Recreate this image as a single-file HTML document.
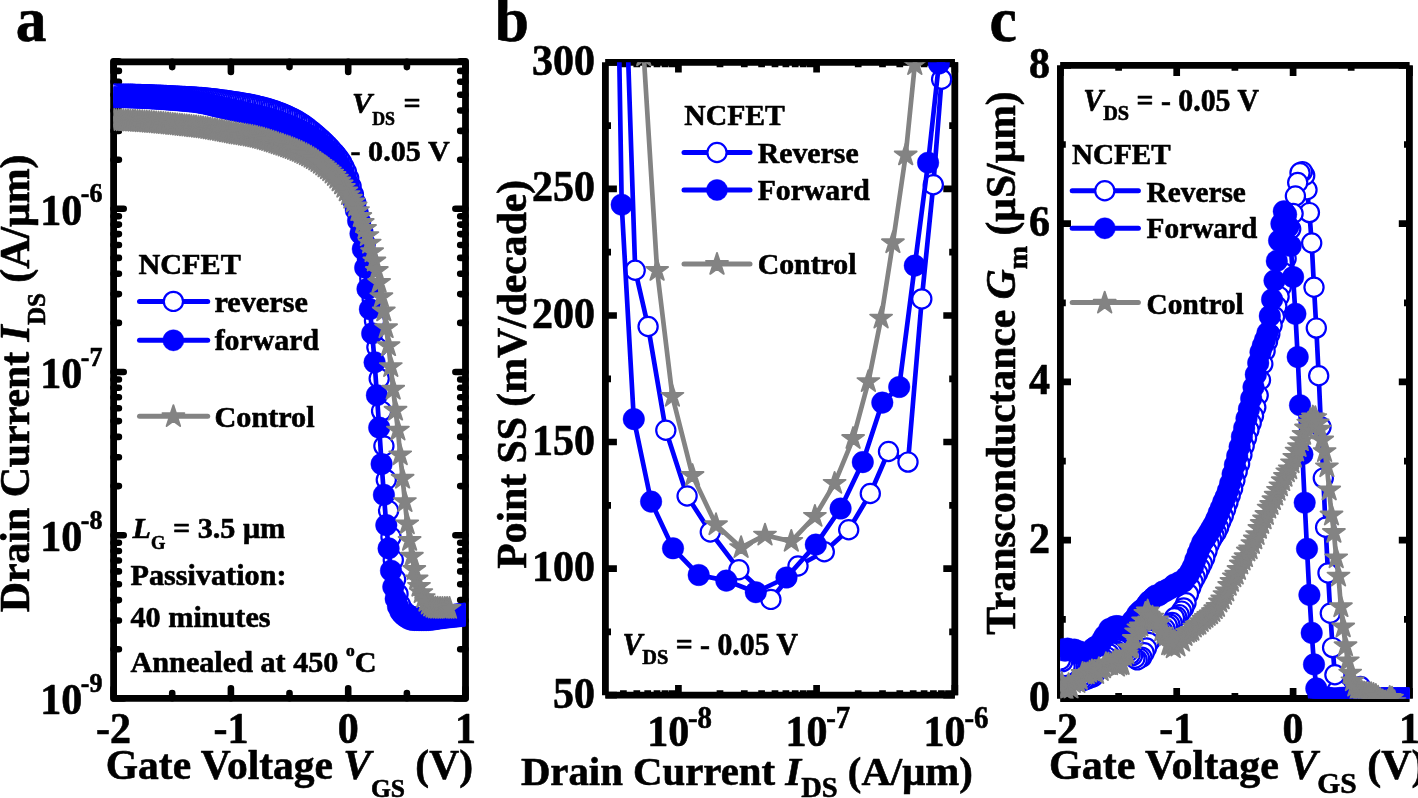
<!DOCTYPE html>
<html lang="en"><head><meta charset="utf-8"><title>Figure</title>
<style>html,body{margin:0;padding:0;background:#fff}body{width:1418px;height:798px;overflow:hidden}svg{display:block}text{font-family:'Liberation Serif','Times New Roman',serif;font-weight:bold;fill:#000;stroke:#000;stroke-width:0.6px;stroke-linejoin:round}</style>
</head><body>
<svg width="1418" height="798" viewBox="0 0 1418 798">
<defs>
<path id="sA" d="M0,-11.6L2.6,-3.6L11,-3.6L4.2,1.4L6.8,9.4L0,4.4L-6.8,9.4L-4.2,1.4L-11,-3.6L-2.6,-3.6Z" stroke="#838383" stroke-width="1.8" stroke-linejoin="round"/>
</defs>
<rect x="113.6" y="61.8" width="351.9" height="636.5" fill="none" stroke="#000" stroke-width="6.8" stroke-linejoin="round"/>
<path d="M113.6,698.3L113.6,688.2M113.6,61.8L113.6,71.9M172.2,698.3L172.2,693M172.2,61.8L172.2,67.1M230.9,698.3L230.9,688.2M230.9,61.8L230.9,71.9M289.5,698.3L289.5,693M289.5,61.8L289.5,67.1M348.2,698.3L348.2,688.2M348.2,61.8L348.2,71.9M406.9,698.3L406.9,693M406.9,61.8L406.9,67.1M465.5,698.3L465.5,688.2M465.5,61.8L465.5,71.9M113.6,698.4L123.7,698.4M465.5,698.4L455.4,698.4M113.6,649.3L118.9,649.3M465.5,649.3L460.2,649.3M113.6,620.5L118.9,620.5M465.5,620.5L460.2,620.5M113.6,600.1L118.9,600.1M465.5,600.1L460.2,600.1M113.6,584.3L118.9,584.3M465.5,584.3L460.2,584.3M113.6,571.4L118.9,571.4M465.5,571.4L460.2,571.4M113.6,560.5L118.9,560.5M465.5,560.5L460.2,560.5M113.6,551L118.9,551M465.5,551L460.2,551M113.6,542.7L118.9,542.7M465.5,542.7L460.2,542.7M113.6,535.2L123.7,535.2M465.5,535.2L455.4,535.2M113.6,486.1L118.9,486.1M465.5,486.1L460.2,486.1M113.6,457.3L118.9,457.3M465.5,457.3L460.2,457.3M113.6,436.9L118.9,436.9M465.5,436.9L460.2,436.9M113.6,421.1L118.9,421.1M465.5,421.1L460.2,421.1M113.6,408.2L118.9,408.2M465.5,408.2L460.2,408.2M113.6,397.3L118.9,397.3M465.5,397.3L460.2,397.3M113.6,387.8L118.9,387.8M465.5,387.8L460.2,387.8M113.6,379.5L118.9,379.5M465.5,379.5L460.2,379.5M113.6,372L123.7,372M465.5,372L455.4,372M113.6,322.9L118.9,322.9M465.5,322.9L460.2,322.9M113.6,294.1L118.9,294.1M465.5,294.1L460.2,294.1M113.6,273.7L118.9,273.7M465.5,273.7L460.2,273.7M113.6,257.9L118.9,257.9M465.5,257.9L460.2,257.9M113.6,245L118.9,245M465.5,245L460.2,245M113.6,234.1L118.9,234.1M465.5,234.1L460.2,234.1M113.6,224.6L118.9,224.6M465.5,224.6L460.2,224.6M113.6,216.3L118.9,216.3M465.5,216.3L460.2,216.3M113.6,208.8L123.7,208.8M465.5,208.8L455.4,208.8M113.6,159.7L118.9,159.7M465.5,159.7L460.2,159.7M113.6,130.9L118.9,130.9M465.5,130.9L460.2,130.9M113.6,110.5L118.9,110.5M465.5,110.5L460.2,110.5M113.6,94.7L118.9,94.7M465.5,94.7L460.2,94.7M113.6,81.8L118.9,81.8M465.5,81.8L460.2,81.8M113.6,70.9L118.9,70.9M465.5,70.9L460.2,70.9M113.6,61.4L118.9,61.4M465.5,61.4L460.2,61.4" stroke="#000" stroke-width="6.6" stroke-linecap="round" fill="none"/>
<clipPath id="ca"><rect x="113.6" y="61.8" width="351.9" height="636.5"/></clipPath>
<g clip-path="url(#ca)">
<polyline fill="none" stroke="#0000ff" stroke-width="4.7" stroke-linejoin="round" points="113.6,94.1 114.1,94.1 116.5,94.1 118.8,94.1 121.2,94.1 123.5,94.2 125.9,94.2 128.2,94.2 130.6,94.3 132.9,94.3 135.2,94.4 137.6,94.4 139.9,94.5 142.3,94.6 144.6,94.7 147,94.7 149.3,94.8 151.7,94.9 154,95 156.4,95.1 158.7,95.2 161,95.3 163.4,95.4 165.7,95.5 168.1,95.6 170.4,95.7 172.8,95.9 175.1,96 177.5,96.1 179.8,96.2 182.2,96.4 184.5,96.5 186.9,96.6 189.2,96.7 191.5,96.9 193.9,97 196.2,97.2 198.6,97.4 200.9,97.5 203.3,97.7 205.6,98 208,98.2 210.3,98.5 212.7,98.7 215,99 217.4,99.3 219.7,99.6 222,99.9 224.4,100.2 226.7,100.5 229.1,100.9 231.4,101.2 233.8,101.6 236.1,101.9 238.5,102.3 240.8,102.7 243.2,103.1 245.5,103.5 247.9,103.9 250.2,104.3 252.5,104.8 254.9,105.3 257.2,105.9 259.6,106.4 261.9,107 264.3,107.7 266.6,108.3 269,109 271.3,109.7 273.7,110.5 276,111.3 278.3,112.1 280.7,113 283,113.9 285.4,114.9 287.7,116 290.1,117.1 292.4,118.2 294.8,119.4 297.1,120.7 299.5,122.1 301.8,123.6 304.2,125.2 306.5,126.9 308.8,128.7 311.2,130.6 313.5,132.5 315.9,134.5 318.2,136.5 320.6,138.6 322.9,140.7 325.3,143 327.6,145.4 330,147.9 332.3,150.5 334.7,153.1 337,155.8 339.3,158.9 341.7,162.4 344,166.7 346.4,171.7 348.7,178.1 351.1,186.2 353.4,194.4 355.8,202.9 358.1,212.7 360.5,221.9 362.8,231.8 365.2,243.6 367.5,259.1 369.8,278.5 372.2,298.7 374.5,320.7 376.9,347.3 379.2,378.5 381.6,411.1 383.9,446 386.3,479.8 388.6,510.6 391,537.1 393.3,560.1 395.6,579.3 398,593.9 400.3,604.5 402.7,609.4 405,612.2 407.4,614.1 409.7,615.6 412.1,616.8 414.4,617.3 416.8,617.5 419.1,617.7 421.5,617.7 423.8,617.8 426.1,617.8 428.5,617.7 430.8,617.5 433.2,617.2 435.5,616.8 437.9,616.5 440.2,616.1 442.6,615.8 444.9,615.5 447.3,615.2 449.6,615 452,614.7 454.3,614.5 456.6,614.2 459,614 461.3,613.7 463.7,613.5 466,613.2" />
<g fill="#fff" stroke="#0000ff" stroke-width="2.2">
<circle cx="466" cy="613.2" r="9.6"/><circle cx="463.7" cy="613.5" r="9.6"/><circle cx="461.3" cy="613.7" r="9.6"/><circle cx="459" cy="614" r="9.6"/><circle cx="456.6" cy="614.2" r="9.6"/><circle cx="454.3" cy="614.5" r="9.6"/><circle cx="452" cy="614.7" r="9.6"/><circle cx="449.6" cy="615" r="9.6"/><circle cx="447.3" cy="615.2" r="9.6"/><circle cx="444.9" cy="615.5" r="9.6"/><circle cx="442.6" cy="615.8" r="9.6"/><circle cx="440.2" cy="616.1" r="9.6"/><circle cx="437.9" cy="616.5" r="9.6"/><circle cx="435.5" cy="616.8" r="9.6"/><circle cx="433.2" cy="617.2" r="9.6"/><circle cx="430.8" cy="617.5" r="9.6"/><circle cx="428.5" cy="617.7" r="9.6"/><circle cx="426.1" cy="617.8" r="9.6"/><circle cx="423.8" cy="617.8" r="9.6"/><circle cx="421.5" cy="617.7" r="9.6"/><circle cx="419.1" cy="617.7" r="9.6"/><circle cx="416.8" cy="617.5" r="9.6"/><circle cx="414.4" cy="617.3" r="9.6"/><circle cx="412.1" cy="616.8" r="9.6"/><circle cx="409.7" cy="615.6" r="9.6"/><circle cx="407.4" cy="614.1" r="9.6"/><circle cx="405" cy="612.2" r="9.6"/><circle cx="402.7" cy="609.4" r="9.6"/><circle cx="400.3" cy="604.5" r="9.6"/><circle cx="398" cy="593.9" r="9.6"/><circle cx="395.6" cy="579.3" r="9.6"/><circle cx="393.3" cy="560.1" r="9.6"/><circle cx="391" cy="537.1" r="9.6"/><circle cx="388.6" cy="510.6" r="9.6"/><circle cx="386.3" cy="479.8" r="9.6"/><circle cx="383.9" cy="446" r="9.6"/><circle cx="381.6" cy="411.1" r="9.6"/><circle cx="379.2" cy="378.5" r="9.6"/><circle cx="376.9" cy="347.3" r="9.6"/><circle cx="374.5" cy="320.7" r="9.6"/><circle cx="372.2" cy="298.7" r="9.6"/><circle cx="369.8" cy="278.5" r="9.6"/><circle cx="367.5" cy="259.1" r="9.6"/><circle cx="365.2" cy="243.6" r="9.6"/><circle cx="362.8" cy="231.8" r="9.6"/><circle cx="360.5" cy="221.9" r="9.6"/><circle cx="358.1" cy="212.7" r="9.6"/><circle cx="355.8" cy="202.9" r="9.6"/><circle cx="353.4" cy="194.4" r="9.6"/><circle cx="351.1" cy="186.2" r="9.6"/><circle cx="348.7" cy="178.1" r="9.6"/><circle cx="346.4" cy="171.7" r="9.6"/><circle cx="344" cy="166.7" r="9.6"/><circle cx="341.7" cy="162.4" r="9.6"/><circle cx="339.3" cy="158.9" r="9.6"/><circle cx="337" cy="155.8" r="9.6"/><circle cx="334.7" cy="153.1" r="9.6"/><circle cx="332.3" cy="150.5" r="9.6"/><circle cx="330" cy="147.9" r="9.6"/><circle cx="327.6" cy="145.4" r="9.6"/><circle cx="325.3" cy="143" r="9.6"/><circle cx="322.9" cy="140.7" r="9.6"/><circle cx="320.6" cy="138.6" r="9.6"/><circle cx="318.2" cy="136.5" r="9.6"/><circle cx="315.9" cy="134.5" r="9.6"/><circle cx="313.5" cy="132.5" r="9.6"/><circle cx="311.2" cy="130.6" r="9.6"/><circle cx="308.8" cy="128.7" r="9.6"/><circle cx="306.5" cy="126.9" r="9.6"/><circle cx="304.2" cy="125.2" r="9.6"/><circle cx="301.8" cy="123.6" r="9.6"/><circle cx="299.5" cy="122.1" r="9.6"/><circle cx="297.1" cy="120.7" r="9.6"/><circle cx="294.8" cy="119.4" r="9.6"/><circle cx="292.4" cy="118.2" r="9.6"/><circle cx="290.1" cy="117.1" r="9.6"/><circle cx="287.7" cy="116" r="9.6"/><circle cx="285.4" cy="114.9" r="9.6"/><circle cx="283" cy="113.9" r="9.6"/><circle cx="280.7" cy="113" r="9.6"/><circle cx="278.3" cy="112.1" r="9.6"/><circle cx="276" cy="111.3" r="9.6"/><circle cx="273.7" cy="110.5" r="9.6"/><circle cx="271.3" cy="109.7" r="9.6"/><circle cx="269" cy="109" r="9.6"/><circle cx="266.6" cy="108.3" r="9.6"/><circle cx="264.3" cy="107.7" r="9.6"/><circle cx="261.9" cy="107" r="9.6"/><circle cx="259.6" cy="106.4" r="9.6"/><circle cx="257.2" cy="105.9" r="9.6"/><circle cx="254.9" cy="105.3" r="9.6"/><circle cx="252.5" cy="104.8" r="9.6"/><circle cx="250.2" cy="104.3" r="9.6"/><circle cx="247.9" cy="103.9" r="9.6"/><circle cx="245.5" cy="103.5" r="9.6"/><circle cx="243.2" cy="103.1" r="9.6"/><circle cx="240.8" cy="102.7" r="9.6"/><circle cx="238.5" cy="102.3" r="9.6"/><circle cx="236.1" cy="101.9" r="9.6"/><circle cx="233.8" cy="101.6" r="9.6"/><circle cx="231.4" cy="101.2" r="9.6"/><circle cx="229.1" cy="100.9" r="9.6"/><circle cx="226.7" cy="100.5" r="9.6"/><circle cx="224.4" cy="100.2" r="9.6"/><circle cx="222" cy="99.9" r="9.6"/><circle cx="219.7" cy="99.6" r="9.6"/><circle cx="217.4" cy="99.3" r="9.6"/><circle cx="215" cy="99" r="9.6"/><circle cx="212.7" cy="98.7" r="9.6"/><circle cx="210.3" cy="98.5" r="9.6"/><circle cx="208" cy="98.2" r="9.6"/><circle cx="205.6" cy="98" r="9.6"/><circle cx="203.3" cy="97.7" r="9.6"/><circle cx="200.9" cy="97.5" r="9.6"/><circle cx="198.6" cy="97.4" r="9.6"/><circle cx="196.2" cy="97.2" r="9.6"/><circle cx="193.9" cy="97" r="9.6"/><circle cx="191.5" cy="96.9" r="9.6"/><circle cx="189.2" cy="96.7" r="9.6"/><circle cx="186.9" cy="96.6" r="9.6"/><circle cx="184.5" cy="96.5" r="9.6"/><circle cx="182.2" cy="96.4" r="9.6"/><circle cx="179.8" cy="96.2" r="9.6"/><circle cx="177.5" cy="96.1" r="9.6"/><circle cx="175.1" cy="96" r="9.6"/><circle cx="172.8" cy="95.9" r="9.6"/><circle cx="170.4" cy="95.7" r="9.6"/><circle cx="168.1" cy="95.6" r="9.6"/><circle cx="165.7" cy="95.5" r="9.6"/><circle cx="163.4" cy="95.4" r="9.6"/><circle cx="161" cy="95.3" r="9.6"/><circle cx="158.7" cy="95.2" r="9.6"/><circle cx="156.4" cy="95.1" r="9.6"/><circle cx="154" cy="95" r="9.6"/><circle cx="151.7" cy="94.9" r="9.6"/><circle cx="149.3" cy="94.8" r="9.6"/><circle cx="147" cy="94.7" r="9.6"/><circle cx="144.6" cy="94.7" r="9.6"/><circle cx="142.3" cy="94.6" r="9.6"/><circle cx="139.9" cy="94.5" r="9.6"/><circle cx="137.6" cy="94.4" r="9.6"/><circle cx="135.2" cy="94.4" r="9.6"/><circle cx="132.9" cy="94.3" r="9.6"/><circle cx="130.6" cy="94.3" r="9.6"/><circle cx="128.2" cy="94.2" r="9.6"/><circle cx="125.9" cy="94.2" r="9.6"/><circle cx="123.5" cy="94.2" r="9.6"/><circle cx="121.2" cy="94.1" r="9.6"/><circle cx="118.8" cy="94.1" r="9.6"/><circle cx="116.5" cy="94.1" r="9.6"/><circle cx="114.1" cy="94.1" r="9.6"/><circle cx="113.6" cy="94.1" r="9.6"/>
</g>
<polyline fill="none" stroke="#0000ff" stroke-width="4.7" stroke-linejoin="round" points="113.6,97.2 114.1,97.2 116.5,97.2 118.8,97.2 121.2,97.3 123.5,97.3 125.9,97.3 128.2,97.4 130.6,97.4 132.9,97.5 135.3,97.6 137.6,97.7 140,97.8 142.3,97.9 144.6,98 147,98.1 149.3,98.2 151.7,98.4 154,98.5 156.4,98.7 158.7,98.8 161.1,99 163.4,99.1 165.8,99.3 168.1,99.5 170.5,99.7 172.8,99.8 175.1,100 177.5,100.2 179.8,100.4 182.2,100.6 184.5,100.8 186.9,101 189.2,101.3 191.6,101.5 193.9,101.7 196.3,102 198.6,102.4 201,102.8 203.3,103.3 205.6,103.7 208,104.3 210.3,104.8 212.7,105.4 215,106 217.4,106.6 219.7,107.2 222.1,107.7 224.4,108.3 226.8,108.9 229.1,109.4 231.4,109.9 233.8,110.4 236.1,110.9 238.5,111.4 240.8,111.9 243.2,112.4 245.5,112.9 247.9,113.5 250.2,114 252.6,114.6 254.9,115.1 257.3,115.6 259.6,116.2 261.9,116.8 264.3,117.4 266.6,118 269,118.7 271.3,119.4 273.7,120.1 276,120.9 278.4,121.7 280.7,122.5 283.1,123.3 285.4,124.2 287.8,125.1 290.1,126 292.4,127 294.8,128.1 297.1,129.1 299.5,130.2 301.8,131.4 304.2,132.7 306.5,134.1 308.9,135.5 311.2,137 313.6,138.7 315.9,140.4 318.3,142.1 320.6,144 322.9,145.9 325.3,148 327.6,150.2 330,152.6 332.3,155.2 334.7,158.1 337,161.3 339.4,165 341.7,169.2 344.1,174 346.4,179.4 348.8,186.2 351.1,193.3 353.4,201 355.8,210 358.1,220.7 360.5,233.6 362.8,249.1 365.2,267.7 367.5,288.9 369.9,309.2 372.2,333.4 374.6,362.3 376.9,395.2 379.2,427.6 381.6,464 383.9,494.9 386.3,525.1 388.6,548.4 391,570.7 393.3,586.8 395.7,598.8 398,606.5 400.4,611.6 402.7,614.4 405.1,616.4 407.4,617.9 409.7,619.2 412.1,619.8 414.4,619.9 416.8,619.9 419.1,620 421.5,620 423.8,620 426.2,620 428.5,619.9 430.9,619.7 433.2,619.4 435.6,619 437.9,618.7 440.2,618.3 442.6,618 444.9,617.7 447.3,617.4 449.6,617.2 452,616.9 454.3,616.7 456.7,616.4 459,616.2 461.4,615.9 463.7,615.7 466.1,615.4" />
<g fill="#0000ff" stroke="#0000ff" stroke-width="0.4">
<circle cx="113.6" cy="97.2" r="10.8"/><circle cx="114.1" cy="97.2" r="10.8"/><circle cx="116.5" cy="97.2" r="10.8"/><circle cx="118.8" cy="97.2" r="10.8"/><circle cx="121.2" cy="97.3" r="10.8"/><circle cx="123.5" cy="97.3" r="10.8"/><circle cx="125.9" cy="97.3" r="10.8"/><circle cx="128.2" cy="97.4" r="10.8"/><circle cx="130.6" cy="97.4" r="10.8"/><circle cx="132.9" cy="97.5" r="10.8"/><circle cx="135.3" cy="97.6" r="10.8"/><circle cx="137.6" cy="97.7" r="10.8"/><circle cx="140" cy="97.8" r="10.8"/><circle cx="142.3" cy="97.9" r="10.8"/><circle cx="144.6" cy="98" r="10.8"/><circle cx="147" cy="98.1" r="10.8"/><circle cx="149.3" cy="98.2" r="10.8"/><circle cx="151.7" cy="98.4" r="10.8"/><circle cx="154" cy="98.5" r="10.8"/><circle cx="156.4" cy="98.7" r="10.8"/><circle cx="158.7" cy="98.8" r="10.8"/><circle cx="161.1" cy="99" r="10.8"/><circle cx="163.4" cy="99.1" r="10.8"/><circle cx="165.8" cy="99.3" r="10.8"/><circle cx="168.1" cy="99.5" r="10.8"/><circle cx="170.5" cy="99.7" r="10.8"/><circle cx="172.8" cy="99.8" r="10.8"/><circle cx="175.1" cy="100" r="10.8"/><circle cx="177.5" cy="100.2" r="10.8"/><circle cx="179.8" cy="100.4" r="10.8"/><circle cx="182.2" cy="100.6" r="10.8"/><circle cx="184.5" cy="100.8" r="10.8"/><circle cx="186.9" cy="101" r="10.8"/><circle cx="189.2" cy="101.3" r="10.8"/><circle cx="191.6" cy="101.5" r="10.8"/><circle cx="193.9" cy="101.7" r="10.8"/><circle cx="196.3" cy="102" r="10.8"/><circle cx="198.6" cy="102.4" r="10.8"/><circle cx="201" cy="102.8" r="10.8"/><circle cx="203.3" cy="103.3" r="10.8"/><circle cx="205.6" cy="103.7" r="10.8"/><circle cx="208" cy="104.3" r="10.8"/><circle cx="210.3" cy="104.8" r="10.8"/><circle cx="212.7" cy="105.4" r="10.8"/><circle cx="215" cy="106" r="10.8"/><circle cx="217.4" cy="106.6" r="10.8"/><circle cx="219.7" cy="107.2" r="10.8"/><circle cx="222.1" cy="107.7" r="10.8"/><circle cx="224.4" cy="108.3" r="10.8"/><circle cx="226.8" cy="108.9" r="10.8"/><circle cx="229.1" cy="109.4" r="10.8"/><circle cx="231.4" cy="109.9" r="10.8"/><circle cx="233.8" cy="110.4" r="10.8"/><circle cx="236.1" cy="110.9" r="10.8"/><circle cx="238.5" cy="111.4" r="10.8"/><circle cx="240.8" cy="111.9" r="10.8"/><circle cx="243.2" cy="112.4" r="10.8"/><circle cx="245.5" cy="112.9" r="10.8"/><circle cx="247.9" cy="113.5" r="10.8"/><circle cx="250.2" cy="114" r="10.8"/><circle cx="252.6" cy="114.6" r="10.8"/><circle cx="254.9" cy="115.1" r="10.8"/><circle cx="257.3" cy="115.6" r="10.8"/><circle cx="259.6" cy="116.2" r="10.8"/><circle cx="261.9" cy="116.8" r="10.8"/><circle cx="264.3" cy="117.4" r="10.8"/><circle cx="266.6" cy="118" r="10.8"/><circle cx="269" cy="118.7" r="10.8"/><circle cx="271.3" cy="119.4" r="10.8"/><circle cx="273.7" cy="120.1" r="10.8"/><circle cx="276" cy="120.9" r="10.8"/><circle cx="278.4" cy="121.7" r="10.8"/><circle cx="280.7" cy="122.5" r="10.8"/><circle cx="283.1" cy="123.3" r="10.8"/><circle cx="285.4" cy="124.2" r="10.8"/><circle cx="287.8" cy="125.1" r="10.8"/><circle cx="290.1" cy="126" r="10.8"/><circle cx="292.4" cy="127" r="10.8"/><circle cx="294.8" cy="128.1" r="10.8"/><circle cx="297.1" cy="129.1" r="10.8"/><circle cx="299.5" cy="130.2" r="10.8"/><circle cx="301.8" cy="131.4" r="10.8"/><circle cx="304.2" cy="132.7" r="10.8"/><circle cx="306.5" cy="134.1" r="10.8"/><circle cx="308.9" cy="135.5" r="10.8"/><circle cx="311.2" cy="137" r="10.8"/><circle cx="313.6" cy="138.7" r="10.8"/><circle cx="315.9" cy="140.4" r="10.8"/><circle cx="318.3" cy="142.1" r="10.8"/><circle cx="320.6" cy="144" r="10.8"/><circle cx="322.9" cy="145.9" r="10.8"/><circle cx="325.3" cy="148" r="10.8"/><circle cx="327.6" cy="150.2" r="10.8"/><circle cx="330" cy="152.6" r="10.8"/><circle cx="332.3" cy="155.2" r="10.8"/><circle cx="334.7" cy="158.1" r="10.8"/><circle cx="337" cy="161.3" r="10.8"/><circle cx="339.4" cy="165" r="10.8"/><circle cx="341.7" cy="169.2" r="10.8"/><circle cx="344.1" cy="174" r="10.8"/><circle cx="346.4" cy="179.4" r="10.8"/><circle cx="348.8" cy="186.2" r="10.8"/><circle cx="351.1" cy="193.3" r="10.8"/><circle cx="353.4" cy="201" r="10.8"/><circle cx="355.8" cy="210" r="10.8"/><circle cx="358.1" cy="220.7" r="10.8"/><circle cx="360.5" cy="233.6" r="10.8"/><circle cx="362.8" cy="249.1" r="10.8"/><circle cx="365.2" cy="267.7" r="10.8"/><circle cx="367.5" cy="288.9" r="10.8"/><circle cx="369.9" cy="309.2" r="10.8"/><circle cx="372.2" cy="333.4" r="10.8"/><circle cx="374.6" cy="362.3" r="10.8"/><circle cx="376.9" cy="395.2" r="10.8"/><circle cx="379.2" cy="427.6" r="10.8"/><circle cx="381.6" cy="464" r="10.8"/><circle cx="383.9" cy="494.9" r="10.8"/><circle cx="386.3" cy="525.1" r="10.8"/><circle cx="388.6" cy="548.4" r="10.8"/><circle cx="391" cy="570.7" r="10.8"/><circle cx="393.3" cy="586.8" r="10.8"/><circle cx="395.7" cy="598.8" r="10.8"/><circle cx="398" cy="606.5" r="10.8"/><circle cx="400.4" cy="611.6" r="10.8"/><circle cx="402.7" cy="614.4" r="10.8"/><circle cx="405.1" cy="616.4" r="10.8"/><circle cx="407.4" cy="617.9" r="10.8"/><circle cx="409.7" cy="619.2" r="10.8"/><circle cx="412.1" cy="619.8" r="10.8"/><circle cx="414.4" cy="619.9" r="10.8"/><circle cx="416.8" cy="619.9" r="10.8"/><circle cx="419.1" cy="620" r="10.8"/><circle cx="421.5" cy="620" r="10.8"/><circle cx="423.8" cy="620" r="10.8"/><circle cx="426.2" cy="620" r="10.8"/><circle cx="428.5" cy="619.9" r="10.8"/><circle cx="430.9" cy="619.7" r="10.8"/><circle cx="433.2" cy="619.4" r="10.8"/><circle cx="435.6" cy="619" r="10.8"/><circle cx="437.9" cy="618.7" r="10.8"/><circle cx="440.2" cy="618.3" r="10.8"/><circle cx="442.6" cy="618" r="10.8"/><circle cx="444.9" cy="617.7" r="10.8"/><circle cx="447.3" cy="617.4" r="10.8"/><circle cx="449.6" cy="617.2" r="10.8"/><circle cx="452" cy="616.9" r="10.8"/><circle cx="454.3" cy="616.7" r="10.8"/><circle cx="456.7" cy="616.4" r="10.8"/><circle cx="459" cy="616.2" r="10.8"/><circle cx="461.4" cy="615.9" r="10.8"/><circle cx="463.7" cy="615.7" r="10.8"/><circle cx="466.1" cy="615.4" r="10.8"/>
</g>
<polyline fill="none" stroke="#838383" stroke-width="4.7" stroke-linejoin="round" points="113.6,120.5 114,120.5 116.3,120.6 118.7,120.6 121,120.7 123.4,120.8 125.7,120.9 128.1,121 130.4,121.1 132.8,121.2 135.1,121.3 137.5,121.5 139.8,121.6 142.2,121.8 144.5,121.9 146.8,122.1 149.2,122.3 151.5,122.5 153.9,122.7 156.2,122.9 158.6,123.1 160.9,123.3 163.3,123.5 165.6,123.7 168,124 170.3,124.2 172.7,124.5 175,124.7 177.3,124.9 179.7,125.2 182,125.5 184.4,125.7 186.7,126 189.1,126.2 191.4,126.5 193.8,126.8 196.1,127 198.5,127.3 200.8,127.6 203.1,127.9 205.5,128.2 207.8,128.6 210.2,129 212.5,129.4 214.9,129.8 217.2,130.2 219.6,130.6 221.9,131.1 224.3,131.5 226.6,132 229,132.4 231.3,132.9 233.6,133.3 236,133.8 238.3,134.2 240.7,134.5 243,134.9 245.4,135.3 247.7,135.7 250.1,136.1 252.4,136.5 254.8,137 257.1,137.5 259.5,138.1 261.8,138.7 264.1,139.3 266.5,140 268.8,140.7 271.2,141.5 273.5,142.2 275.9,143 278.2,143.8 280.6,144.6 282.9,145.3 285.3,146.2 287.6,147 289.9,147.8 292.3,148.7 294.6,149.6 297,150.6 299.3,151.5 301.7,152.6 304,153.7 306.4,154.8 308.7,156 311.1,157.3 313.4,158.7 315.8,160.1 318.1,161.7 320.4,163.4 322.8,165.1 325.1,167 327.5,168.9 329.8,170.9 332.2,173.2 334.5,175.6 336.9,178.2 339.2,181 341.6,184 343.9,187.4 346.3,191 348.6,194.7 350.9,198.3 353.3,202.1 355.6,206.1 358,210.7 360.3,216.6 362.7,222.6 365,228.6 367.4,235.7 369.7,243.2 372.1,251.8 374.4,261.1 376.8,270.6 379.1,282.5 381.4,296.8 383.8,311 386.1,327.8 388.5,345.8 390.8,366.7 393.2,389.3 395.5,410.3 397.9,430.2 400.2,454.9 402.6,478.3 404.9,501.7 407.2,523.9 409.6,540.5 411.9,556.3 414.3,569.6 416.6,579.1 419,586.4 421.3,592.7 423.7,597.7 426,601.4 428.4,604.2 430.7,606.1 433.1,607.4 435.4,608.1 437.7,608.3 440.1,608.4 442.4,608.5 444.8,608.5 447.1,608.5 449.5,608.4" />
<g fill="#838383">
<use href="#sA" x="113.6" y="120.5"/><use href="#sA" x="114" y="120.5"/><use href="#sA" x="116.3" y="120.6"/><use href="#sA" x="118.7" y="120.6"/><use href="#sA" x="121" y="120.7"/><use href="#sA" x="123.4" y="120.8"/><use href="#sA" x="125.7" y="120.9"/><use href="#sA" x="128.1" y="121"/><use href="#sA" x="130.4" y="121.1"/><use href="#sA" x="132.8" y="121.2"/><use href="#sA" x="135.1" y="121.3"/><use href="#sA" x="137.5" y="121.5"/><use href="#sA" x="139.8" y="121.6"/><use href="#sA" x="142.2" y="121.8"/><use href="#sA" x="144.5" y="121.9"/><use href="#sA" x="146.8" y="122.1"/><use href="#sA" x="149.2" y="122.3"/><use href="#sA" x="151.5" y="122.5"/><use href="#sA" x="153.9" y="122.7"/><use href="#sA" x="156.2" y="122.9"/><use href="#sA" x="158.6" y="123.1"/><use href="#sA" x="160.9" y="123.3"/><use href="#sA" x="163.3" y="123.5"/><use href="#sA" x="165.6" y="123.7"/><use href="#sA" x="168" y="124"/><use href="#sA" x="170.3" y="124.2"/><use href="#sA" x="172.7" y="124.5"/><use href="#sA" x="175" y="124.7"/><use href="#sA" x="177.3" y="124.9"/><use href="#sA" x="179.7" y="125.2"/><use href="#sA" x="182" y="125.5"/><use href="#sA" x="184.4" y="125.7"/><use href="#sA" x="186.7" y="126"/><use href="#sA" x="189.1" y="126.2"/><use href="#sA" x="191.4" y="126.5"/><use href="#sA" x="193.8" y="126.8"/><use href="#sA" x="196.1" y="127"/><use href="#sA" x="198.5" y="127.3"/><use href="#sA" x="200.8" y="127.6"/><use href="#sA" x="203.1" y="127.9"/><use href="#sA" x="205.5" y="128.2"/><use href="#sA" x="207.8" y="128.6"/><use href="#sA" x="210.2" y="129"/><use href="#sA" x="212.5" y="129.4"/><use href="#sA" x="214.9" y="129.8"/><use href="#sA" x="217.2" y="130.2"/><use href="#sA" x="219.6" y="130.6"/><use href="#sA" x="221.9" y="131.1"/><use href="#sA" x="224.3" y="131.5"/><use href="#sA" x="226.6" y="132"/><use href="#sA" x="229" y="132.4"/><use href="#sA" x="231.3" y="132.9"/><use href="#sA" x="233.6" y="133.3"/><use href="#sA" x="236" y="133.8"/><use href="#sA" x="238.3" y="134.2"/><use href="#sA" x="240.7" y="134.5"/><use href="#sA" x="243" y="134.9"/><use href="#sA" x="245.4" y="135.3"/><use href="#sA" x="247.7" y="135.7"/><use href="#sA" x="250.1" y="136.1"/><use href="#sA" x="252.4" y="136.5"/><use href="#sA" x="254.8" y="137"/><use href="#sA" x="257.1" y="137.5"/><use href="#sA" x="259.5" y="138.1"/><use href="#sA" x="261.8" y="138.7"/><use href="#sA" x="264.1" y="139.3"/><use href="#sA" x="266.5" y="140"/><use href="#sA" x="268.8" y="140.7"/><use href="#sA" x="271.2" y="141.5"/><use href="#sA" x="273.5" y="142.2"/><use href="#sA" x="275.9" y="143"/><use href="#sA" x="278.2" y="143.8"/><use href="#sA" x="280.6" y="144.6"/><use href="#sA" x="282.9" y="145.3"/><use href="#sA" x="285.3" y="146.2"/><use href="#sA" x="287.6" y="147"/><use href="#sA" x="289.9" y="147.8"/><use href="#sA" x="292.3" y="148.7"/><use href="#sA" x="294.6" y="149.6"/><use href="#sA" x="297" y="150.6"/><use href="#sA" x="299.3" y="151.5"/><use href="#sA" x="301.7" y="152.6"/><use href="#sA" x="304" y="153.7"/><use href="#sA" x="306.4" y="154.8"/><use href="#sA" x="308.7" y="156"/><use href="#sA" x="311.1" y="157.3"/><use href="#sA" x="313.4" y="158.7"/><use href="#sA" x="315.8" y="160.1"/><use href="#sA" x="318.1" y="161.7"/><use href="#sA" x="320.4" y="163.4"/><use href="#sA" x="322.8" y="165.1"/><use href="#sA" x="325.1" y="167"/><use href="#sA" x="327.5" y="168.9"/><use href="#sA" x="329.8" y="170.9"/><use href="#sA" x="332.2" y="173.2"/><use href="#sA" x="334.5" y="175.6"/><use href="#sA" x="336.9" y="178.2"/><use href="#sA" x="339.2" y="181"/><use href="#sA" x="341.6" y="184"/><use href="#sA" x="343.9" y="187.4"/><use href="#sA" x="346.3" y="191"/><use href="#sA" x="348.6" y="194.7"/><use href="#sA" x="350.9" y="198.3"/><use href="#sA" x="353.3" y="202.1"/><use href="#sA" x="355.6" y="206.1"/><use href="#sA" x="358" y="210.7"/><use href="#sA" x="360.3" y="216.6"/><use href="#sA" x="362.7" y="222.6"/><use href="#sA" x="365" y="228.6"/><use href="#sA" x="367.4" y="235.7"/><use href="#sA" x="369.7" y="243.2"/><use href="#sA" x="372.1" y="251.8"/><use href="#sA" x="374.4" y="261.1"/><use href="#sA" x="376.8" y="270.6"/><use href="#sA" x="379.1" y="282.5"/><use href="#sA" x="381.4" y="296.8"/><use href="#sA" x="383.8" y="311"/><use href="#sA" x="386.1" y="327.8"/><use href="#sA" x="388.5" y="345.8"/><use href="#sA" x="390.8" y="366.7"/><use href="#sA" x="393.2" y="389.3"/><use href="#sA" x="395.5" y="410.3"/><use href="#sA" x="397.9" y="430.2"/><use href="#sA" x="400.2" y="454.9"/><use href="#sA" x="402.6" y="478.3"/><use href="#sA" x="404.9" y="501.7"/><use href="#sA" x="407.2" y="523.9"/><use href="#sA" x="409.6" y="540.5"/><use href="#sA" x="411.9" y="556.3"/><use href="#sA" x="414.3" y="569.6"/><use href="#sA" x="416.6" y="579.1"/><use href="#sA" x="419" y="586.4"/><use href="#sA" x="421.3" y="592.7"/><use href="#sA" x="423.7" y="597.7"/><use href="#sA" x="426" y="601.4"/><use href="#sA" x="428.4" y="604.2"/><use href="#sA" x="430.7" y="606.1"/><use href="#sA" x="433.1" y="607.4"/><use href="#sA" x="435.4" y="608.1"/><use href="#sA" x="437.7" y="608.3"/><use href="#sA" x="440.1" y="608.4"/><use href="#sA" x="442.4" y="608.5"/><use href="#sA" x="444.8" y="608.5"/><use href="#sA" x="447.1" y="608.5"/><use href="#sA" x="449.5" y="608.4"/>
</g>
</g>
<line x1="139.5" y1="301.4" x2="207.7" y2="301.4" stroke="#0000ff" stroke-width="5" stroke-linecap="round"/>
<g fill="#fff" stroke="#0000ff" stroke-width="2.2">
<circle cx="173.4" cy="301.4" r="9.6"/>
</g>
<line x1="139.5" y1="340.3" x2="207.7" y2="340.3" stroke="#0000ff" stroke-width="5" stroke-linecap="round"/>
<g fill="#0000ff" stroke="#0000ff" stroke-width="0.4">
<circle cx="173.4" cy="340.3" r="10.6"/>
</g>
<line x1="139.5" y1="416.2" x2="207.7" y2="416.2" stroke="#838383" stroke-width="5" stroke-linecap="round"/>
<g fill="#838383">
<use href="#sA" x="173.4" y="416.7"/>
</g>
<text transform="translate(138.5,274.3)" font-size="30.2" text-anchor="start" >NCFET</text>
<text transform="translate(214.5,311.9)" font-size="30.2" text-anchor="start" >reverse</text>
<text transform="translate(214.7,350.3)" font-size="29.8" text-anchor="start" >forward</text>
<text transform="translate(214.5,426.7)" font-size="30.2" text-anchor="start" >Control</text>
<text transform="translate(352,112.8)" font-size="30.2" text-anchor="start" ><tspan font-style="italic">V</tspan><tspan font-size="17.8" dy="12.3">DS</tspan><tspan dy="-12.3" dx="1"> =</tspan></text>
<text transform="translate(350.5,161.2)" font-size="30.2" text-anchor="start" >- 0.05 V</text>
<text transform="translate(132.5,537.6)" font-size="30.2" text-anchor="start" ><tspan font-style="italic">L</tspan><tspan font-size="18.5" dy="11.7">G</tspan><tspan dy="-11.7"> = 3.5 μm</tspan></text>
<text transform="translate(130.5,584.5)" font-size="30.2" text-anchor="start" >Passivation:</text>
<text transform="translate(130.5,626.9)" font-size="30.2" text-anchor="start" >40 minutes</text>
<text transform="translate(130.5,671.9)" font-size="30.2" text-anchor="start" >Annealed at 450 <tspan font-size="17.5" dy="-15.5">o</tspan><tspan dy="15.5">C</tspan></text>
<text transform="translate(113.6,742.8) scale(1.000,1.064)" font-size="42" text-anchor="middle" >-2</text>
<text transform="translate(230.9,742.8) scale(1.000,1.064)" font-size="42" text-anchor="middle" >-1</text>
<text transform="translate(348.2,742.8) scale(1.000,1.064)" font-size="42" text-anchor="middle" >0</text>
<text transform="translate(465.5,742.8) scale(1.000,1.064)" font-size="42" text-anchor="middle" >1</text>
<text transform="translate(102.5,224.7) scale(1.000,1.064)" font-size="42" text-anchor="end" >10<tspan font-size="26" dy="-21" dx="-1.5">-6</tspan></text>
<text transform="translate(102.5,387.9) scale(1.000,1.064)" font-size="42" text-anchor="end" >10<tspan font-size="26" dy="-21" dx="-1.5">-7</tspan></text>
<text transform="translate(102.5,551.1) scale(1.000,1.064)" font-size="42" text-anchor="end" >10<tspan font-size="26" dy="-21" dx="-1.5">-8</tspan></text>
<text transform="translate(102.5,714.3) scale(1.000,1.064)" font-size="42" text-anchor="end" >10<tspan font-size="26" dy="-21" dx="-1.5">-9</tspan></text>
<text transform="translate(289.4,778.6)" font-size="41.5" text-anchor="middle" >Gate Voltage <tspan font-style="italic">V</tspan><tspan font-size="25.5" dy="17.9">GS</tspan><tspan dy="-17.9"> (V)</tspan></text>
<text transform="translate(28.6,383.4) rotate(-90)" font-size="41.8" text-anchor="middle" >Drain Current <tspan font-style="italic">I</tspan><tspan font-size="25" dy="16.3">DS</tspan><tspan dy="-16.3"> (A/μm)</tspan></text>
<text transform="translate(15.8,40.5) scale(1.000,1.030)" font-size="61.5" text-anchor="start" >a</text>
<path d="M605.4,62.3H954.8M954.8,62.3V695.2M954.8,695.2H605.4M605.4,695.2V62.3" fill="none" stroke="#000" stroke-width="6.8"/>
<path d="M623.4,695.2L623.4,690.2M623.4,62.3L623.4,67.3M636.8,695.2L636.8,690.2M636.8,62.3L636.8,67.3M647.7,695.2L647.7,690.2M647.7,62.3L647.7,67.3M657,695.2L657,690.2M657,62.3L657,67.3M665,695.2L665,690.2M665,62.3L665,67.3M672.1,695.2L672.1,690.2M672.1,62.3L672.1,67.3M678.4,695.2L678.4,685.1M678.4,62.3L678.4,72.4M720,695.2L720,690.2M720,62.3L720,67.3M744.3,695.2L744.3,690.2M744.3,62.3L744.3,67.3M761.6,695.2L761.6,690.2M761.6,62.3L761.6,67.3M775,695.2L775,690.2M775,62.3L775,67.3M785.9,695.2L785.9,690.2M785.9,62.3L785.9,67.3M795.2,695.2L795.2,690.2M795.2,62.3L795.2,67.3M803.2,695.2L803.2,690.2M803.2,62.3L803.2,67.3M810.3,695.2L810.3,690.2M810.3,62.3L810.3,67.3M816.6,695.2L816.6,685.1M816.6,62.3L816.6,72.4M858.2,695.2L858.2,690.2M858.2,62.3L858.2,67.3M882.5,695.2L882.5,690.2M882.5,62.3L882.5,67.3M899.8,695.2L899.8,690.2M899.8,62.3L899.8,67.3M913.2,695.2L913.2,690.2M913.2,62.3L913.2,67.3M924.1,695.2L924.1,690.2M924.1,62.3L924.1,67.3M933.4,695.2L933.4,690.2M933.4,62.3L933.4,67.3M941.4,695.2L941.4,690.2M941.4,62.3L941.4,67.3M948.5,695.2L948.5,690.2M948.5,62.3L948.5,67.3M954.8,695.2L954.8,685.1M954.8,62.3L954.8,72.4M605.4,695.2L616.9,695.2M954.8,695.2L943.3,695.2M605.4,631.9L611,631.9M954.8,631.9L949.2,631.9M605.4,568.6L616.9,568.6M954.8,568.6L943.3,568.6M605.4,505.3L611,505.3M954.8,505.3L949.2,505.3M605.4,442L616.9,442M954.8,442L943.3,442M605.4,378.8L611,378.8M954.8,378.8L949.2,378.8M605.4,315.5L616.9,315.5M954.8,315.5L943.3,315.5M605.4,252.2L611,252.2M954.8,252.2L949.2,252.2M605.4,188.9L616.9,188.9M954.8,188.9L943.3,188.9M605.4,125.6L611,125.6M954.8,125.6L949.2,125.6M605.4,62.3L616.9,62.3M954.8,62.3L943.3,62.3" stroke="#000" stroke-width="6.7" stroke-linecap="butt" fill="none"/>
<clipPath id="cb"><rect x="605.4" y="62.3" width="349.4" height="632.9"/></clipPath>
<g clip-path="url(#cb)">
<polyline fill="none" stroke="#0000ff" stroke-width="4.7" stroke-linejoin="round" points="623.9,-70 635.2,270.2 648.1,326.5 665.8,430.2 687.1,496 710.3,532 738.9,569.7 770.9,599.4 798,566 824.3,551.8 848.7,529.8 870.3,493.5 888.5,451.5 908,462.1 921.8,298.9 933.3,184.8 941.6,79.3 950,-25" />
<g fill="#fff" stroke="#0000ff" stroke-width="2.2">
<circle cx="950" cy="-25" r="9.6"/><circle cx="941.6" cy="79.3" r="9.6"/><circle cx="933.3" cy="184.8" r="9.6"/><circle cx="921.8" cy="298.9" r="9.6"/><circle cx="908" cy="462.1" r="9.6"/><circle cx="888.5" cy="451.5" r="9.6"/><circle cx="870.3" cy="493.5" r="9.6"/><circle cx="848.7" cy="529.8" r="9.6"/><circle cx="824.3" cy="551.8" r="9.6"/><circle cx="798" cy="566" r="9.6"/><circle cx="770.9" cy="599.4" r="9.6"/><circle cx="738.9" cy="569.7" r="9.6"/><circle cx="710.3" cy="532" r="9.6"/><circle cx="687.1" cy="496" r="9.6"/><circle cx="665.8" cy="430.2" r="9.6"/><circle cx="648.1" cy="326.5" r="9.6"/><circle cx="635.2" cy="270.2" r="9.6"/><circle cx="623.9" cy="-70" r="9.6"/>
</g>
<polyline fill="none" stroke="#0000ff" stroke-width="4.7" stroke-linejoin="round" points="617,-80 621.7,204.7 633.8,419.1 651.1,501.6 673,548.3 698.7,575 726.3,580.6 755.8,592.2 786.5,577.5 815.8,544.6 840.6,508.5 862.8,462.1 882.3,402.6 899.2,387 914.8,265.6 928.1,162.7 938.9,63.5 948,-20" />
<g fill="#0000ff" stroke="#0000ff" stroke-width="0.4">
<circle cx="617" cy="-80" r="10.8"/><circle cx="621.7" cy="204.7" r="10.8"/><circle cx="633.8" cy="419.1" r="10.8"/><circle cx="651.1" cy="501.6" r="10.8"/><circle cx="673" cy="548.3" r="10.8"/><circle cx="698.7" cy="575" r="10.8"/><circle cx="726.3" cy="580.6" r="10.8"/><circle cx="755.8" cy="592.2" r="10.8"/><circle cx="786.5" cy="577.5" r="10.8"/><circle cx="815.8" cy="544.6" r="10.8"/><circle cx="840.6" cy="508.5" r="10.8"/><circle cx="862.8" cy="462.1" r="10.8"/><circle cx="882.3" cy="402.6" r="10.8"/><circle cx="899.2" cy="387" r="10.8"/><circle cx="914.8" cy="265.6" r="10.8"/><circle cx="928.1" cy="162.7" r="10.8"/><circle cx="938.9" cy="63.5" r="10.8"/><circle cx="948" cy="-20" r="10.8"/>
</g>
<polyline fill="none" stroke="#838383" stroke-width="4.7" stroke-linejoin="round" points="636,-70 643.8,56 657.1,270.5 672.4,396.4 692.5,475.6 716,524.8 741.1,547.7 765,535.2 791.3,541.4 814.9,516.4 834.6,483.4 853.1,438.6 868.4,381.7 881.1,318.2 892.9,242.8 905.7,155 914.8,64.7 923,-20" />
<g fill="#838383">
<use href="#sA" x="636" y="-70"/><use href="#sA" x="643.8" y="56"/><use href="#sA" x="657.1" y="270.5"/><use href="#sA" x="672.4" y="396.4"/><use href="#sA" x="692.5" y="475.6"/><use href="#sA" x="716" y="524.8"/><use href="#sA" x="741.1" y="547.7"/><use href="#sA" x="765" y="535.2"/><use href="#sA" x="791.3" y="541.4"/><use href="#sA" x="814.9" y="516.4"/><use href="#sA" x="834.6" y="483.4"/><use href="#sA" x="853.1" y="438.6"/><use href="#sA" x="868.4" y="381.7"/><use href="#sA" x="881.1" y="318.2"/><use href="#sA" x="892.9" y="242.8"/><use href="#sA" x="905.7" y="155"/><use href="#sA" x="914.8" y="64.7"/><use href="#sA" x="923" y="-20"/>
</g>
</g>
<line x1="684" y1="152.5" x2="750" y2="152.5" stroke="#0000ff" stroke-width="5" stroke-linecap="round"/>
<g fill="#fff" stroke="#0000ff" stroke-width="2.2">
<circle cx="717" cy="152.5" r="9.6"/>
</g>
<line x1="684" y1="190" x2="750" y2="190" stroke="#0000ff" stroke-width="5" stroke-linecap="round"/>
<g fill="#0000ff" stroke="#0000ff" stroke-width="0.4">
<circle cx="717" cy="190" r="10.6"/>
</g>
<line x1="684" y1="264" x2="750" y2="264" stroke="#838383" stroke-width="5" stroke-linecap="round"/>
<g fill="#838383">
<use href="#sA" x="717" y="264.5"/>
</g>
<text transform="translate(684.3,125.1)" font-size="29.7" text-anchor="start" >NCFET</text>
<text transform="translate(757.7,162.7)" font-size="29.8" text-anchor="start" >Reverse</text>
<text transform="translate(757.7,199.8)" font-size="29.7" text-anchor="start" >Forward</text>
<text transform="translate(757.7,274.2)" font-size="29.8" text-anchor="start" >Control</text>
<text transform="translate(622.4,655.1) scale(1.000,1.050)" font-size="29.8" text-anchor="start" ><tspan font-style="italic">V</tspan><tspan font-size="20.3" dy="8.4">DS</tspan><tspan dy="-8.4"> = - 0.05 V</tspan></text>
<text transform="translate(595,707.7) scale(1.000,1.064)" font-size="42" text-anchor="end" >50</text>
<text transform="translate(595,581.1) scale(1.000,1.064)" font-size="42" text-anchor="end" >100</text>
<text transform="translate(595,454.5) scale(1.000,1.064)" font-size="42" text-anchor="end" >150</text>
<text transform="translate(595,328) scale(1.000,1.064)" font-size="42" text-anchor="end" >200</text>
<text transform="translate(595,201.4) scale(1.000,1.064)" font-size="42" text-anchor="end" >250</text>
<text transform="translate(595,74.8) scale(1.000,1.064)" font-size="42" text-anchor="end" >300</text>
<text transform="translate(679.6,746.4) scale(1.000,1.064)" font-size="42" text-anchor="middle" >10<tspan font-size="28.8" dy="-17.7" dx="-1.2">-8</tspan></text>
<text transform="translate(817.8,746.4) scale(1.000,1.064)" font-size="42" text-anchor="middle" >10<tspan font-size="28.8" dy="-17.7" dx="-1.2">-7</tspan></text>
<text transform="translate(956,746.4) scale(1.000,1.064)" font-size="42" text-anchor="middle" >10<tspan font-size="28.8" dy="-17.7" dx="-1.2">-6</tspan></text>
<text transform="translate(746.9,785.2)" font-size="40.8" text-anchor="middle" >Drain Current <tspan font-style="italic">I</tspan><tspan font-size="28.5" dy="11.5">DS</tspan><tspan dy="-11.5"> (A/μm)</tspan></text>
<text transform="translate(526.3,374.3) rotate(-90)" font-size="41.7" text-anchor="middle" >Point SS (mV/decade)</text>
<text transform="translate(494.8,40.5) scale(1.000,1.030)" font-size="61.5" text-anchor="start" >b</text>
<path d="M1060.4,65.4H1409.4M1409.4,65.4V698.5M1409.4,698.5H1060.4M1060.4,698.5V65.4" fill="none" stroke="#000" stroke-width="6.8"/>
<path d="M1060.4,698.5L1060.4,687.9M1060.4,65.4L1060.4,76M1118.6,698.5L1118.6,693.1M1118.6,65.4L1118.6,70.8M1176.7,698.5L1176.7,687.9M1176.7,65.4L1176.7,76M1234.9,698.5L1234.9,693.1M1234.9,65.4L1234.9,70.8M1293.1,698.5L1293.1,687.9M1293.1,65.4L1293.1,76M1351.2,698.5L1351.2,693.1M1351.2,65.4L1351.2,70.8M1409.4,698.5L1409.4,687.9M1409.4,65.4L1409.4,76M1060.4,698.5L1071,698.5M1409.4,698.5L1398.8,698.5M1060.4,619.4L1065.8,619.4M1409.4,619.4L1404,619.4M1060.4,540.2L1071,540.2M1409.4,540.2L1398.8,540.2M1060.4,461.1L1065.8,461.1M1409.4,461.1L1404,461.1M1060.4,381.9L1071,381.9M1409.4,381.9L1398.8,381.9M1060.4,302.8L1065.8,302.8M1409.4,302.8L1404,302.8M1060.4,223.7L1071,223.7M1409.4,223.7L1398.8,223.7M1060.4,144.5L1065.8,144.5M1409.4,144.5L1404,144.5M1060.4,65.4L1071,65.4M1409.4,65.4L1398.8,65.4" stroke="#000" stroke-width="6.7" stroke-linecap="butt" fill="none"/>
<clipPath id="cc"><rect x="1060.4" y="65.4" width="349" height="633.1"/></clipPath>
<g clip-path="url(#cc)">
<polyline fill="none" stroke="#0000ff" stroke-width="4.7" stroke-linejoin="round" points="1060.4,659.9 1062.7,661.6 1065.1,666.6 1067.4,667.3 1069.7,668.2 1072,671.4 1074.4,671.6 1076.7,675.2 1079,678.7 1081.3,680 1083.7,680.5 1086,679.2 1088.3,678.7 1090.6,676.8 1093,677 1095.3,672.7 1097.6,669.5 1100,664.5 1102.3,660.7 1104.6,659.5 1106.9,657.1 1109.3,654 1111.6,652.1 1113.9,651.6 1116.2,651 1118.6,649.2 1120.9,650.1 1123.2,650.4 1125.5,650.8 1127.9,652.3 1130.2,654.4 1132.5,655.6 1134.9,658.2 1137.2,659.9 1139.5,658.2 1141.8,657.1 1144.2,652.8 1146.5,648 1148.8,642.4 1151.1,639.4 1153.5,637.1 1155.8,634.8 1158.1,632.8 1160.4,632 1162.8,630.9 1165.1,628.8 1167.4,625.7 1169.8,624.2 1172.1,622.5 1174.4,617.7 1176.7,616.7 1179.1,614.6 1181.4,611.1 1183.7,607.9 1186,602.8 1188.4,593.9 1190.7,587.8 1193,581.8 1195.3,577.5 1197.7,573 1200,567.9 1202.3,563.2 1204.7,558.1 1207,551.1 1209.3,544.2 1211.6,539.4 1214,535.4 1216.3,532.2 1218.6,527.6 1220.9,521.3 1223.3,515.7 1225.6,509.3 1227.9,502.4 1230.2,495.5 1232.6,488.6 1234.9,480.2 1237.2,471.5 1239.6,463.8 1241.9,454.7 1244.2,445.7 1246.5,438 1248.9,429.9 1251.2,422.9 1253.5,415.8 1255.8,407.2 1258.2,395.3 1260.5,380 1262.8,364 1265.1,351 1267.5,341.4 1269.8,334.1 1272.1,325.3 1274.5,316.7 1276.8,306.3 1279.1,296.6 1281.4,286.6 1283.8,273 1286.1,258.4 1288.4,244.5 1290.7,229 1293.1,213.5 1295.4,196 1297.7,182.5 1300,172.7 1302.4,171.6 1304.7,175.4 1307,189.8 1309.4,212.6 1311.7,243 1314,287.3 1316.3,328.1 1318.7,375.8 1321,427 1323.3,478.1 1325.6,527.3 1328,572.9 1330.3,613.2 1332.6,647.6 1334.9,674.7 1337.3,690.3 1339.6,696 1341.9,697.5 1344.3,698.3 1346.6,698.5 1348.9,697.9 1351.2,698.1 1353.6,698 1355.9,698 1358.2,698 1360.5,686.5 1362.9,698 1365.2,698 1367.5,698.1 1369.8,698.1 1372.2,698.1 1374.5,698.2 1376.8,698.2 1379.2,698.2 1381.5,698.2 1383.8,698.2 1386.1,698.3 1388.5,698.3 1390.8,698.3 1393.1,698.3 1395.4,698.3 1397.8,698.3 1400.1,698.3 1402.4,698.3 1404.7,698.3 1407.1,698.3 1409.4,698.3" />
<g fill="#fff" stroke="#0000ff" stroke-width="2.2">
<circle cx="1409.4" cy="698.3" r="9.6"/><circle cx="1407.1" cy="698.3" r="9.6"/><circle cx="1404.7" cy="698.3" r="9.6"/><circle cx="1402.4" cy="698.3" r="9.6"/><circle cx="1400.1" cy="698.3" r="9.6"/><circle cx="1397.8" cy="698.3" r="9.6"/><circle cx="1395.4" cy="698.3" r="9.6"/><circle cx="1393.1" cy="698.3" r="9.6"/><circle cx="1390.8" cy="698.3" r="9.6"/><circle cx="1388.5" cy="698.3" r="9.6"/><circle cx="1386.1" cy="698.3" r="9.6"/><circle cx="1383.8" cy="698.2" r="9.6"/><circle cx="1381.5" cy="698.2" r="9.6"/><circle cx="1379.2" cy="698.2" r="9.6"/><circle cx="1376.8" cy="698.2" r="9.6"/><circle cx="1374.5" cy="698.2" r="9.6"/><circle cx="1372.2" cy="698.1" r="9.6"/><circle cx="1369.8" cy="698.1" r="9.6"/><circle cx="1367.5" cy="698.1" r="9.6"/><circle cx="1365.2" cy="698" r="9.6"/><circle cx="1362.9" cy="698" r="9.6"/><circle cx="1360.5" cy="686.5" r="9.6"/><circle cx="1358.2" cy="698" r="9.6"/><circle cx="1355.9" cy="698" r="9.6"/><circle cx="1353.6" cy="698" r="9.6"/><circle cx="1351.2" cy="698.1" r="9.6"/><circle cx="1348.9" cy="697.9" r="9.6"/><circle cx="1346.6" cy="698.5" r="9.6"/><circle cx="1344.3" cy="698.3" r="9.6"/><circle cx="1341.9" cy="697.5" r="9.6"/><circle cx="1339.6" cy="696" r="9.6"/><circle cx="1337.3" cy="690.3" r="9.6"/><circle cx="1334.9" cy="674.7" r="9.6"/><circle cx="1332.6" cy="647.6" r="9.6"/><circle cx="1330.3" cy="613.2" r="9.6"/><circle cx="1328" cy="572.9" r="9.6"/><circle cx="1325.6" cy="527.3" r="9.6"/><circle cx="1323.3" cy="478.1" r="9.6"/><circle cx="1321" cy="427" r="9.6"/><circle cx="1318.7" cy="375.8" r="9.6"/><circle cx="1316.3" cy="328.1" r="9.6"/><circle cx="1314" cy="287.3" r="9.6"/><circle cx="1311.7" cy="243" r="9.6"/><circle cx="1309.4" cy="212.6" r="9.6"/><circle cx="1307" cy="189.8" r="9.6"/><circle cx="1304.7" cy="175.4" r="9.6"/><circle cx="1302.4" cy="171.6" r="9.6"/><circle cx="1300" cy="172.7" r="9.6"/><circle cx="1297.7" cy="182.5" r="9.6"/><circle cx="1295.4" cy="196" r="9.6"/><circle cx="1293.1" cy="213.5" r="9.6"/><circle cx="1290.7" cy="229" r="9.6"/><circle cx="1288.4" cy="244.5" r="9.6"/><circle cx="1286.1" cy="258.4" r="9.6"/><circle cx="1283.8" cy="273" r="9.6"/><circle cx="1281.4" cy="286.6" r="9.6"/><circle cx="1279.1" cy="296.6" r="9.6"/><circle cx="1276.8" cy="306.3" r="9.6"/><circle cx="1274.5" cy="316.7" r="9.6"/><circle cx="1272.1" cy="325.3" r="9.6"/><circle cx="1269.8" cy="334.1" r="9.6"/><circle cx="1267.5" cy="341.4" r="9.6"/><circle cx="1265.1" cy="351" r="9.6"/><circle cx="1262.8" cy="364" r="9.6"/><circle cx="1260.5" cy="380" r="9.6"/><circle cx="1258.2" cy="395.3" r="9.6"/><circle cx="1255.8" cy="407.2" r="9.6"/><circle cx="1253.5" cy="415.8" r="9.6"/><circle cx="1251.2" cy="422.9" r="9.6"/><circle cx="1248.9" cy="429.9" r="9.6"/><circle cx="1246.5" cy="438" r="9.6"/><circle cx="1244.2" cy="445.7" r="9.6"/><circle cx="1241.9" cy="454.7" r="9.6"/><circle cx="1239.6" cy="463.8" r="9.6"/><circle cx="1237.2" cy="471.5" r="9.6"/><circle cx="1234.9" cy="480.2" r="9.6"/><circle cx="1232.6" cy="488.6" r="9.6"/><circle cx="1230.2" cy="495.5" r="9.6"/><circle cx="1227.9" cy="502.4" r="9.6"/><circle cx="1225.6" cy="509.3" r="9.6"/><circle cx="1223.3" cy="515.7" r="9.6"/><circle cx="1220.9" cy="521.3" r="9.6"/><circle cx="1218.6" cy="527.6" r="9.6"/><circle cx="1216.3" cy="532.2" r="9.6"/><circle cx="1214" cy="535.4" r="9.6"/><circle cx="1211.6" cy="539.4" r="9.6"/><circle cx="1209.3" cy="544.2" r="9.6"/><circle cx="1207" cy="551.1" r="9.6"/><circle cx="1204.7" cy="558.1" r="9.6"/><circle cx="1202.3" cy="563.2" r="9.6"/><circle cx="1200" cy="567.9" r="9.6"/><circle cx="1197.7" cy="573" r="9.6"/><circle cx="1195.3" cy="577.5" r="9.6"/><circle cx="1193" cy="581.8" r="9.6"/><circle cx="1190.7" cy="587.8" r="9.6"/><circle cx="1188.4" cy="593.9" r="9.6"/><circle cx="1186" cy="602.8" r="9.6"/><circle cx="1183.7" cy="607.9" r="9.6"/><circle cx="1181.4" cy="611.1" r="9.6"/><circle cx="1179.1" cy="614.6" r="9.6"/><circle cx="1176.7" cy="616.7" r="9.6"/><circle cx="1174.4" cy="617.7" r="9.6"/><circle cx="1172.1" cy="622.5" r="9.6"/><circle cx="1169.8" cy="624.2" r="9.6"/><circle cx="1167.4" cy="625.7" r="9.6"/><circle cx="1165.1" cy="628.8" r="9.6"/><circle cx="1162.8" cy="630.9" r="9.6"/><circle cx="1160.4" cy="632" r="9.6"/><circle cx="1158.1" cy="632.8" r="9.6"/><circle cx="1155.8" cy="634.8" r="9.6"/><circle cx="1153.5" cy="637.1" r="9.6"/><circle cx="1151.1" cy="639.4" r="9.6"/><circle cx="1148.8" cy="642.4" r="9.6"/><circle cx="1146.5" cy="648" r="9.6"/><circle cx="1144.2" cy="652.8" r="9.6"/><circle cx="1141.8" cy="657.1" r="9.6"/><circle cx="1139.5" cy="658.2" r="9.6"/><circle cx="1137.2" cy="659.9" r="9.6"/><circle cx="1134.9" cy="658.2" r="9.6"/><circle cx="1132.5" cy="655.6" r="9.6"/><circle cx="1130.2" cy="654.4" r="9.6"/><circle cx="1127.9" cy="652.3" r="9.6"/><circle cx="1125.5" cy="650.8" r="9.6"/><circle cx="1123.2" cy="650.4" r="9.6"/><circle cx="1120.9" cy="650.1" r="9.6"/><circle cx="1118.6" cy="649.2" r="9.6"/><circle cx="1116.2" cy="651" r="9.6"/><circle cx="1113.9" cy="651.6" r="9.6"/><circle cx="1111.6" cy="652.1" r="9.6"/><circle cx="1109.3" cy="654" r="9.6"/><circle cx="1106.9" cy="657.1" r="9.6"/><circle cx="1104.6" cy="659.5" r="9.6"/><circle cx="1102.3" cy="660.7" r="9.6"/><circle cx="1100" cy="664.5" r="9.6"/><circle cx="1097.6" cy="669.5" r="9.6"/><circle cx="1095.3" cy="672.7" r="9.6"/><circle cx="1093" cy="677" r="9.6"/><circle cx="1090.6" cy="676.8" r="9.6"/><circle cx="1088.3" cy="678.7" r="9.6"/><circle cx="1086" cy="679.2" r="9.6"/><circle cx="1083.7" cy="680.5" r="9.6"/><circle cx="1081.3" cy="680" r="9.6"/><circle cx="1079" cy="678.7" r="9.6"/><circle cx="1076.7" cy="675.2" r="9.6"/><circle cx="1074.4" cy="671.6" r="9.6"/><circle cx="1072" cy="671.4" r="9.6"/><circle cx="1069.7" cy="668.2" r="9.6"/><circle cx="1067.4" cy="667.3" r="9.6"/><circle cx="1065.1" cy="666.6" r="9.6"/><circle cx="1062.7" cy="661.6" r="9.6"/><circle cx="1060.4" cy="659.9" r="9.6"/>
</g>
<polyline fill="none" stroke="#0000ff" stroke-width="4.7" stroke-linejoin="round" points="1060.4,650.1 1062.7,649.2 1065.1,650.6 1067.4,648.6 1069.7,650.1 1072,649.9 1074.4,649.6 1076.7,651.8 1079,651.4 1081.3,653.8 1083.7,653.2 1086,652.8 1088.3,652.5 1090.6,652.3 1093,648.5 1095.3,646.9 1097.6,646.1 1100,644.4 1102.3,639.8 1104.6,635.8 1106.9,634.7 1109.3,629.1 1111.6,629.9 1113.9,626.9 1116.2,626.1 1118.6,626.3 1120.9,627.4 1123.2,629.4 1125.5,627 1127.9,626.4 1130.2,624.3 1132.5,620.7 1134.9,618.3 1137.2,614.2 1139.5,611.7 1141.8,609.7 1144.2,608.4 1146.5,604.7 1148.8,601.6 1151.1,599.9 1153.5,597.5 1155.8,595.5 1158.1,595.7 1160.4,594.2 1162.8,591.6 1165.1,591.3 1167.4,589.5 1169.8,588.7 1172.1,586.7 1174.4,584.5 1176.7,586 1179.1,582.3 1181.4,582 1183.7,581.5 1186,577.2 1188.4,575.2 1190.7,570.9 1193,566.5 1195.3,559.8 1197.7,553.4 1200,547.8 1202.3,542.5 1204.7,539.3 1207,535.6 1209.3,531.9 1211.6,527.9 1214,523.9 1216.3,519 1218.6,513.2 1220.9,507.9 1223.3,501.9 1225.6,497 1227.9,490.7 1230.2,483.3 1232.6,474.1 1234.9,464.9 1237.2,456 1239.6,446.8 1241.9,436.7 1244.2,427.9 1246.5,418.4 1248.9,409.2 1251.2,398.5 1253.5,387.1 1255.8,374.5 1258.2,363 1260.5,352.2 1262.8,345.6 1265.1,339.7 1267.5,332.8 1269.8,316 1272.1,299.4 1274.5,280.6 1276.8,260.9 1279.1,240.6 1281.4,223.7 1283.8,211.3 1286.1,214.4 1288.4,226.5 1290.7,246 1293.1,277 1295.4,313.8 1297.7,357 1300,405.2 1302.4,454.2 1304.7,502.7 1307,548.8 1309.4,594.9 1311.7,632.9 1314,664.4 1316.3,688.4 1318.7,696.2 1321,697.5 1323.3,698.1 1325.6,698.2 1328,697.5 1330.3,698.5 1332.6,698.4 1334.9,698.5 1337.3,698.5 1339.6,698 1341.9,698 1344.3,697.7 1346.6,698.3 1348.9,697.7 1351.2,697.7 1353.6,698.2 1355.9,698.2 1358.2,698.2 1360.5,698.2 1362.9,698.2 1365.2,698.3 1367.5,698.3 1369.8,698.3 1372.2,698.3 1374.5,698.3 1376.8,698.3 1379.2,698.3 1381.5,698.3 1383.8,698.3 1386.1,698.3 1388.5,698.3 1390.8,698.3 1393.1,698.3 1395.4,698.3 1397.8,698.3 1400.1,698.3 1402.4,698.3 1404.7,698.3 1407.1,698.3 1409.4,698.3" />
<g fill="#0000ff" stroke="#0000ff" stroke-width="0.4">
<circle cx="1060.4" cy="650.1" r="10.8"/><circle cx="1062.7" cy="649.2" r="10.8"/><circle cx="1065.1" cy="650.6" r="10.8"/><circle cx="1067.4" cy="648.6" r="10.8"/><circle cx="1069.7" cy="650.1" r="10.8"/><circle cx="1072" cy="649.9" r="10.8"/><circle cx="1074.4" cy="649.6" r="10.8"/><circle cx="1076.7" cy="651.8" r="10.8"/><circle cx="1079" cy="651.4" r="10.8"/><circle cx="1081.3" cy="653.8" r="10.8"/><circle cx="1083.7" cy="653.2" r="10.8"/><circle cx="1086" cy="652.8" r="10.8"/><circle cx="1088.3" cy="652.5" r="10.8"/><circle cx="1090.6" cy="652.3" r="10.8"/><circle cx="1093" cy="648.5" r="10.8"/><circle cx="1095.3" cy="646.9" r="10.8"/><circle cx="1097.6" cy="646.1" r="10.8"/><circle cx="1100" cy="644.4" r="10.8"/><circle cx="1102.3" cy="639.8" r="10.8"/><circle cx="1104.6" cy="635.8" r="10.8"/><circle cx="1106.9" cy="634.7" r="10.8"/><circle cx="1109.3" cy="629.1" r="10.8"/><circle cx="1111.6" cy="629.9" r="10.8"/><circle cx="1113.9" cy="626.9" r="10.8"/><circle cx="1116.2" cy="626.1" r="10.8"/><circle cx="1118.6" cy="626.3" r="10.8"/><circle cx="1120.9" cy="627.4" r="10.8"/><circle cx="1123.2" cy="629.4" r="10.8"/><circle cx="1125.5" cy="627" r="10.8"/><circle cx="1127.9" cy="626.4" r="10.8"/><circle cx="1130.2" cy="624.3" r="10.8"/><circle cx="1132.5" cy="620.7" r="10.8"/><circle cx="1134.9" cy="618.3" r="10.8"/><circle cx="1137.2" cy="614.2" r="10.8"/><circle cx="1139.5" cy="611.7" r="10.8"/><circle cx="1141.8" cy="609.7" r="10.8"/><circle cx="1144.2" cy="608.4" r="10.8"/><circle cx="1146.5" cy="604.7" r="10.8"/><circle cx="1148.8" cy="601.6" r="10.8"/><circle cx="1151.1" cy="599.9" r="10.8"/><circle cx="1153.5" cy="597.5" r="10.8"/><circle cx="1155.8" cy="595.5" r="10.8"/><circle cx="1158.1" cy="595.7" r="10.8"/><circle cx="1160.4" cy="594.2" r="10.8"/><circle cx="1162.8" cy="591.6" r="10.8"/><circle cx="1165.1" cy="591.3" r="10.8"/><circle cx="1167.4" cy="589.5" r="10.8"/><circle cx="1169.8" cy="588.7" r="10.8"/><circle cx="1172.1" cy="586.7" r="10.8"/><circle cx="1174.4" cy="584.5" r="10.8"/><circle cx="1176.7" cy="586" r="10.8"/><circle cx="1179.1" cy="582.3" r="10.8"/><circle cx="1181.4" cy="582" r="10.8"/><circle cx="1183.7" cy="581.5" r="10.8"/><circle cx="1186" cy="577.2" r="10.8"/><circle cx="1188.4" cy="575.2" r="10.8"/><circle cx="1190.7" cy="570.9" r="10.8"/><circle cx="1193" cy="566.5" r="10.8"/><circle cx="1195.3" cy="559.8" r="10.8"/><circle cx="1197.7" cy="553.4" r="10.8"/><circle cx="1200" cy="547.8" r="10.8"/><circle cx="1202.3" cy="542.5" r="10.8"/><circle cx="1204.7" cy="539.3" r="10.8"/><circle cx="1207" cy="535.6" r="10.8"/><circle cx="1209.3" cy="531.9" r="10.8"/><circle cx="1211.6" cy="527.9" r="10.8"/><circle cx="1214" cy="523.9" r="10.8"/><circle cx="1216.3" cy="519" r="10.8"/><circle cx="1218.6" cy="513.2" r="10.8"/><circle cx="1220.9" cy="507.9" r="10.8"/><circle cx="1223.3" cy="501.9" r="10.8"/><circle cx="1225.6" cy="497" r="10.8"/><circle cx="1227.9" cy="490.7" r="10.8"/><circle cx="1230.2" cy="483.3" r="10.8"/><circle cx="1232.6" cy="474.1" r="10.8"/><circle cx="1234.9" cy="464.9" r="10.8"/><circle cx="1237.2" cy="456" r="10.8"/><circle cx="1239.6" cy="446.8" r="10.8"/><circle cx="1241.9" cy="436.7" r="10.8"/><circle cx="1244.2" cy="427.9" r="10.8"/><circle cx="1246.5" cy="418.4" r="10.8"/><circle cx="1248.9" cy="409.2" r="10.8"/><circle cx="1251.2" cy="398.5" r="10.8"/><circle cx="1253.5" cy="387.1" r="10.8"/><circle cx="1255.8" cy="374.5" r="10.8"/><circle cx="1258.2" cy="363" r="10.8"/><circle cx="1260.5" cy="352.2" r="10.8"/><circle cx="1262.8" cy="345.6" r="10.8"/><circle cx="1265.1" cy="339.7" r="10.8"/><circle cx="1267.5" cy="332.8" r="10.8"/><circle cx="1269.8" cy="316" r="10.8"/><circle cx="1272.1" cy="299.4" r="10.8"/><circle cx="1274.5" cy="280.6" r="10.8"/><circle cx="1276.8" cy="260.9" r="10.8"/><circle cx="1279.1" cy="240.6" r="10.8"/><circle cx="1281.4" cy="223.7" r="10.8"/><circle cx="1283.8" cy="211.3" r="10.8"/><circle cx="1286.1" cy="214.4" r="10.8"/><circle cx="1288.4" cy="226.5" r="10.8"/><circle cx="1290.7" cy="246" r="10.8"/><circle cx="1293.1" cy="277" r="10.8"/><circle cx="1295.4" cy="313.8" r="10.8"/><circle cx="1297.7" cy="357" r="10.8"/><circle cx="1300" cy="405.2" r="10.8"/><circle cx="1302.4" cy="454.2" r="10.8"/><circle cx="1304.7" cy="502.7" r="10.8"/><circle cx="1307" cy="548.8" r="10.8"/><circle cx="1309.4" cy="594.9" r="10.8"/><circle cx="1311.7" cy="632.9" r="10.8"/><circle cx="1314" cy="664.4" r="10.8"/><circle cx="1316.3" cy="688.4" r="10.8"/><circle cx="1318.7" cy="696.2" r="10.8"/><circle cx="1321" cy="697.5" r="10.8"/><circle cx="1323.3" cy="698.1" r="10.8"/><circle cx="1325.6" cy="698.2" r="10.8"/><circle cx="1328" cy="697.5" r="10.8"/><circle cx="1330.3" cy="698.5" r="10.8"/><circle cx="1332.6" cy="698.4" r="10.8"/><circle cx="1334.9" cy="698.5" r="10.8"/><circle cx="1337.3" cy="698.5" r="10.8"/><circle cx="1339.6" cy="698" r="10.8"/><circle cx="1341.9" cy="698" r="10.8"/><circle cx="1344.3" cy="697.7" r="10.8"/><circle cx="1346.6" cy="698.3" r="10.8"/><circle cx="1348.9" cy="697.7" r="10.8"/><circle cx="1351.2" cy="697.7" r="10.8"/><circle cx="1353.6" cy="698.2" r="10.8"/><circle cx="1355.9" cy="698.2" r="10.8"/><circle cx="1358.2" cy="698.2" r="10.8"/><circle cx="1360.5" cy="698.2" r="10.8"/><circle cx="1362.9" cy="698.2" r="10.8"/><circle cx="1365.2" cy="698.3" r="10.8"/><circle cx="1367.5" cy="698.3" r="10.8"/><circle cx="1369.8" cy="698.3" r="10.8"/><circle cx="1372.2" cy="698.3" r="10.8"/><circle cx="1374.5" cy="698.3" r="10.8"/><circle cx="1376.8" cy="698.3" r="10.8"/><circle cx="1379.2" cy="698.3" r="10.8"/><circle cx="1381.5" cy="698.3" r="10.8"/><circle cx="1383.8" cy="698.3" r="10.8"/><circle cx="1386.1" cy="698.3" r="10.8"/><circle cx="1388.5" cy="698.3" r="10.8"/><circle cx="1390.8" cy="698.3" r="10.8"/><circle cx="1393.1" cy="698.3" r="10.8"/><circle cx="1395.4" cy="698.3" r="10.8"/><circle cx="1397.8" cy="698.3" r="10.8"/><circle cx="1400.1" cy="698.3" r="10.8"/><circle cx="1402.4" cy="698.3" r="10.8"/><circle cx="1404.7" cy="698.3" r="10.8"/><circle cx="1407.1" cy="698.3" r="10.8"/><circle cx="1409.4" cy="698.3" r="10.8"/>
</g>
<polyline fill="none" stroke="#838383" stroke-width="4.7" stroke-linejoin="round" points="1060.4,686 1061.7,683.4 1064,688.8 1066.3,689.6 1068.6,684.7 1071,688.3 1073.3,682.7 1075.6,681.2 1077.9,682.6 1080.3,679.5 1082.6,673.5 1084.9,674.1 1087.2,673.9 1089.6,672.3 1091.9,670.9 1094.2,671.4 1096.6,673.7 1098.9,668.7 1101.2,670.7 1103.5,668 1105.9,663.7 1108.2,664.3 1110.5,664.9 1112.8,663.6 1115.2,660.5 1117.5,666.3 1119.8,664.9 1122.1,664.6 1124.5,656.2 1126.8,653.9 1129.1,648.2 1131.5,647.8 1133.8,638.6 1136.1,631.9 1138.4,627.9 1140.8,626.1 1143.1,620.9 1145.4,613.4 1147.7,611.1 1150.1,617.2 1152.4,617.2 1154.7,620.9 1157,620 1159.4,623.2 1161.7,631.2 1164,633.8 1166.4,635.6 1168.7,644.8 1171,645.2 1173.3,647.8 1175.7,642.9 1178,646.1 1180.3,638.9 1182.6,641.3 1185,635.7 1187.3,632.5 1189.6,631.7 1191.9,630.4 1194.3,627.2 1196.6,625.2 1198.9,624.3 1201.2,621.7 1203.6,619.3 1205.9,617.5 1208.2,615.6 1210.6,614 1212.9,611.7 1215.2,608.8 1217.5,606.6 1219.9,602.1 1222.2,599 1224.5,594.7 1226.8,591.1 1229.2,585.5 1231.5,581.5 1233.8,576.9 1236.2,574.3 1238.5,569.6 1240.8,564.1 1243.1,560.2 1245.5,556.8 1247.8,551.1 1250.1,548.9 1252.4,543.7 1254.8,539 1257.1,534.7 1259.4,528.5 1261.7,523.6 1264.1,519 1266.4,514.6 1268.7,508.2 1271.1,504.6 1273.4,499.8 1275.7,495.3 1278,490.4 1280.4,485.9 1282.7,480.8 1285,476.5 1287.3,471.9 1289.7,468.9 1292,462.9 1294.3,457.4 1296.6,451.2 1299,446.7 1301.3,440.8 1303.6,434.5 1306,428.1 1308.3,423.2 1310.6,419.5 1312.9,417.1 1315.3,417.7 1317.6,423 1319.9,429.2 1322.2,440.1 1324.6,451.7 1326.9,466.9 1329.2,490.1 1331.5,515.1 1333.9,532.5 1336.2,557.9 1338.5,576.2 1340.9,606.8 1343.2,627 1345.5,645.8 1347.8,660.9 1350.2,673.2 1352.5,680.9 1354.8,686.2 1357.1,689.2 1359.5,691.2 1361.8,692.3 1364.1,693.1 1366.4,693.5 1368.8,693.7 1371.1,693.8 1373.4,694.4 1375.8,695.4 1378.1,697.3 1380.4,699.6 1382.7,701 1385.1,701.9 1387.4,701.6 1389.7,697.5 1392,698.2 1394.4,701.7" />
<g fill="#838383">
<use href="#sA" x="1060.4" y="686"/><use href="#sA" x="1061.7" y="683.4"/><use href="#sA" x="1064" y="688.8"/><use href="#sA" x="1066.3" y="689.6"/><use href="#sA" x="1068.6" y="684.7"/><use href="#sA" x="1071" y="688.3"/><use href="#sA" x="1073.3" y="682.7"/><use href="#sA" x="1075.6" y="681.2"/><use href="#sA" x="1077.9" y="682.6"/><use href="#sA" x="1080.3" y="679.5"/><use href="#sA" x="1082.6" y="673.5"/><use href="#sA" x="1084.9" y="674.1"/><use href="#sA" x="1087.2" y="673.9"/><use href="#sA" x="1089.6" y="672.3"/><use href="#sA" x="1091.9" y="670.9"/><use href="#sA" x="1094.2" y="671.4"/><use href="#sA" x="1096.6" y="673.7"/><use href="#sA" x="1098.9" y="668.7"/><use href="#sA" x="1101.2" y="670.7"/><use href="#sA" x="1103.5" y="668"/><use href="#sA" x="1105.9" y="663.7"/><use href="#sA" x="1108.2" y="664.3"/><use href="#sA" x="1110.5" y="664.9"/><use href="#sA" x="1112.8" y="663.6"/><use href="#sA" x="1115.2" y="660.5"/><use href="#sA" x="1117.5" y="666.3"/><use href="#sA" x="1119.8" y="664.9"/><use href="#sA" x="1122.1" y="664.6"/><use href="#sA" x="1124.5" y="656.2"/><use href="#sA" x="1126.8" y="653.9"/><use href="#sA" x="1129.1" y="648.2"/><use href="#sA" x="1131.5" y="647.8"/><use href="#sA" x="1133.8" y="638.6"/><use href="#sA" x="1136.1" y="631.9"/><use href="#sA" x="1138.4" y="627.9"/><use href="#sA" x="1140.8" y="626.1"/><use href="#sA" x="1143.1" y="620.9"/><use href="#sA" x="1145.4" y="613.4"/><use href="#sA" x="1147.7" y="611.1"/><use href="#sA" x="1150.1" y="617.2"/><use href="#sA" x="1152.4" y="617.2"/><use href="#sA" x="1154.7" y="620.9"/><use href="#sA" x="1157" y="620"/><use href="#sA" x="1159.4" y="623.2"/><use href="#sA" x="1161.7" y="631.2"/><use href="#sA" x="1164" y="633.8"/><use href="#sA" x="1166.4" y="635.6"/><use href="#sA" x="1168.7" y="644.8"/><use href="#sA" x="1171" y="645.2"/><use href="#sA" x="1173.3" y="647.8"/><use href="#sA" x="1175.7" y="642.9"/><use href="#sA" x="1178" y="646.1"/><use href="#sA" x="1180.3" y="638.9"/><use href="#sA" x="1182.6" y="641.3"/><use href="#sA" x="1185" y="635.7"/><use href="#sA" x="1187.3" y="632.5"/><use href="#sA" x="1189.6" y="631.7"/><use href="#sA" x="1191.9" y="630.4"/><use href="#sA" x="1194.3" y="627.2"/><use href="#sA" x="1196.6" y="625.2"/><use href="#sA" x="1198.9" y="624.3"/><use href="#sA" x="1201.2" y="621.7"/><use href="#sA" x="1203.6" y="619.3"/><use href="#sA" x="1205.9" y="617.5"/><use href="#sA" x="1208.2" y="615.6"/><use href="#sA" x="1210.6" y="614"/><use href="#sA" x="1212.9" y="611.7"/><use href="#sA" x="1215.2" y="608.8"/><use href="#sA" x="1217.5" y="606.6"/><use href="#sA" x="1219.9" y="602.1"/><use href="#sA" x="1222.2" y="599"/><use href="#sA" x="1224.5" y="594.7"/><use href="#sA" x="1226.8" y="591.1"/><use href="#sA" x="1229.2" y="585.5"/><use href="#sA" x="1231.5" y="581.5"/><use href="#sA" x="1233.8" y="576.9"/><use href="#sA" x="1236.2" y="574.3"/><use href="#sA" x="1238.5" y="569.6"/><use href="#sA" x="1240.8" y="564.1"/><use href="#sA" x="1243.1" y="560.2"/><use href="#sA" x="1245.5" y="556.8"/><use href="#sA" x="1247.8" y="551.1"/><use href="#sA" x="1250.1" y="548.9"/><use href="#sA" x="1252.4" y="543.7"/><use href="#sA" x="1254.8" y="539"/><use href="#sA" x="1257.1" y="534.7"/><use href="#sA" x="1259.4" y="528.5"/><use href="#sA" x="1261.7" y="523.6"/><use href="#sA" x="1264.1" y="519"/><use href="#sA" x="1266.4" y="514.6"/><use href="#sA" x="1268.7" y="508.2"/><use href="#sA" x="1271.1" y="504.6"/><use href="#sA" x="1273.4" y="499.8"/><use href="#sA" x="1275.7" y="495.3"/><use href="#sA" x="1278" y="490.4"/><use href="#sA" x="1280.4" y="485.9"/><use href="#sA" x="1282.7" y="480.8"/><use href="#sA" x="1285" y="476.5"/><use href="#sA" x="1287.3" y="471.9"/><use href="#sA" x="1289.7" y="468.9"/><use href="#sA" x="1292" y="462.9"/><use href="#sA" x="1294.3" y="457.4"/><use href="#sA" x="1296.6" y="451.2"/><use href="#sA" x="1299" y="446.7"/><use href="#sA" x="1301.3" y="440.8"/><use href="#sA" x="1303.6" y="434.5"/><use href="#sA" x="1306" y="428.1"/><use href="#sA" x="1308.3" y="423.2"/><use href="#sA" x="1310.6" y="419.5"/><use href="#sA" x="1312.9" y="417.1"/><use href="#sA" x="1315.3" y="417.7"/><use href="#sA" x="1317.6" y="423"/><use href="#sA" x="1319.9" y="429.2"/><use href="#sA" x="1322.2" y="440.1"/><use href="#sA" x="1324.6" y="451.7"/><use href="#sA" x="1326.9" y="466.9"/><use href="#sA" x="1329.2" y="490.1"/><use href="#sA" x="1331.5" y="515.1"/><use href="#sA" x="1333.9" y="532.5"/><use href="#sA" x="1336.2" y="557.9"/><use href="#sA" x="1338.5" y="576.2"/><use href="#sA" x="1340.9" y="606.8"/><use href="#sA" x="1343.2" y="627"/><use href="#sA" x="1345.5" y="645.8"/><use href="#sA" x="1347.8" y="660.9"/><use href="#sA" x="1350.2" y="673.2"/><use href="#sA" x="1352.5" y="680.9"/><use href="#sA" x="1354.8" y="686.2"/><use href="#sA" x="1357.1" y="689.2"/><use href="#sA" x="1359.5" y="691.2"/><use href="#sA" x="1361.8" y="692.3"/><use href="#sA" x="1364.1" y="693.1"/><use href="#sA" x="1366.4" y="693.5"/><use href="#sA" x="1368.8" y="693.7"/><use href="#sA" x="1371.1" y="693.8"/><use href="#sA" x="1373.4" y="694.4"/><use href="#sA" x="1375.8" y="695.4"/><use href="#sA" x="1378.1" y="697.3"/><use href="#sA" x="1380.4" y="699.6"/><use href="#sA" x="1382.7" y="701"/><use href="#sA" x="1385.1" y="701.9"/><use href="#sA" x="1387.4" y="701.6"/><use href="#sA" x="1389.7" y="697.5"/><use href="#sA" x="1392" y="698.2"/><use href="#sA" x="1394.4" y="701.7"/>
</g>
</g>
<line x1="1072.2" y1="190.7" x2="1138.4" y2="190.7" stroke="#0000ff" stroke-width="5" stroke-linecap="round"/>
<g fill="#fff" stroke="#0000ff" stroke-width="2.2">
<circle cx="1104.8" cy="190.8" r="9.6"/>
</g>
<line x1="1072.2" y1="228.3" x2="1138.4" y2="228.3" stroke="#0000ff" stroke-width="5" stroke-linecap="round"/>
<g fill="#0000ff" stroke="#0000ff" stroke-width="0.4">
<circle cx="1104.8" cy="228.3" r="10.6"/>
</g>
<line x1="1072.2" y1="302.5" x2="1138.4" y2="302.5" stroke="#838383" stroke-width="5" stroke-linecap="round"/>
<g fill="#838383">
<use href="#sA" x="1104.7" y="303.2"/>
</g>
<text transform="translate(1072,164)" font-size="29.1" text-anchor="start" >NCFET</text>
<text transform="translate(1146.6,201.6)" font-size="29.3" text-anchor="start" >Reverse</text>
<text transform="translate(1146.6,238.3)" font-size="29.3" text-anchor="start" >Forward</text>
<text transform="translate(1146.6,313.5)" font-size="29.3" text-anchor="start" >Control</text>
<text transform="translate(1083.3,111.1) scale(1.000,1.050)" font-size="29.8" text-anchor="start" ><tspan font-style="italic">V</tspan><tspan font-size="20.3" dy="8.4">DS</tspan><tspan dy="-8.4"> = - 0.05 V</tspan></text>
<text transform="translate(1050,711) scale(1.000,1.064)" font-size="42" text-anchor="end" >0</text>
<text transform="translate(1050,552.7) scale(1.000,1.064)" font-size="42" text-anchor="end" >2</text>
<text transform="translate(1050,394.4) scale(1.000,1.064)" font-size="42" text-anchor="end" >4</text>
<text transform="translate(1050,236.2) scale(1.000,1.064)" font-size="42" text-anchor="end" >6</text>
<text transform="translate(1050,77.9) scale(1.000,1.064)" font-size="42" text-anchor="end" >8</text>
<text transform="translate(1060.4,742.8) scale(1.000,1.064)" font-size="42" text-anchor="middle" >-2</text>
<text transform="translate(1176.7,742.8) scale(1.000,1.064)" font-size="42" text-anchor="middle" >-1</text>
<text transform="translate(1293.1,742.8) scale(1.000,1.064)" font-size="42" text-anchor="middle" >0</text>
<text transform="translate(1409.4,742.8) scale(1.000,1.064)" font-size="42" text-anchor="middle" >1</text>
<text transform="translate(1049,778.8)" font-size="42" text-anchor="start" >Gate Voltage <tspan font-style="italic">V</tspan><tspan font-size="29.5" dy="14.2">GS</tspan><tspan dy="-14.2"> (V)</tspan></text>
<text transform="translate(1014.8,363) rotate(-90)" font-size="41.6" text-anchor="middle" >Transconductance <tspan font-style="italic">G</tspan><tspan font-size="28" dy="12.5">m</tspan><tspan dy="-12.5"> (μS/μm)</tspan></text>
<text transform="translate(989.5,40.5) scale(1.000,1.030)" font-size="61.5" text-anchor="start" >c</text>
</svg>
</body></html>
